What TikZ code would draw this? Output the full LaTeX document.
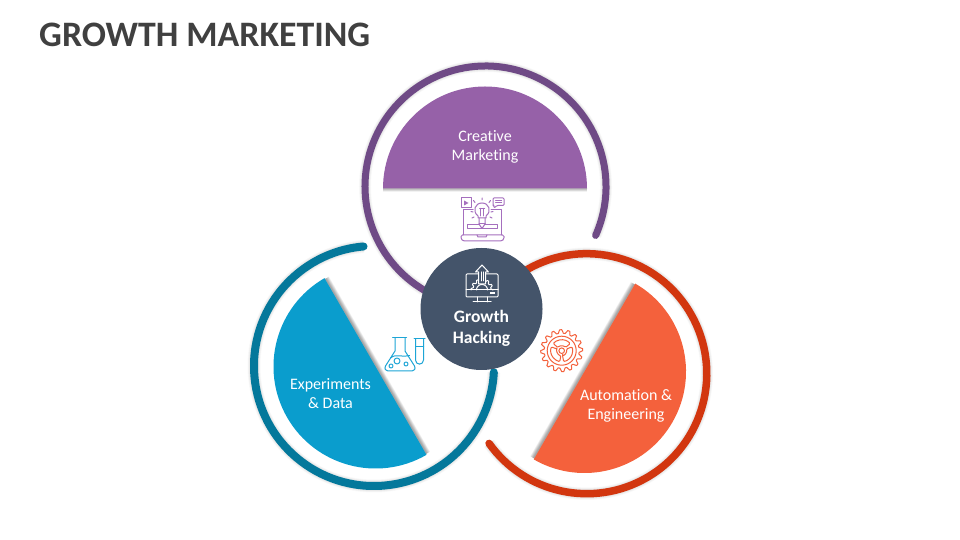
\documentclass[tikz,border=0pt]{standalone}
\usepackage{fontspec}
\setmainfont[Ligatures=NoCommon]{Carlito}
\usetikzlibrary{calc}
\definecolor{ttl}{HTML}{404040}
\definecolor{purring}{HTML}{6F4A86}
\definecolor{purfill}{HTML}{9661A8}
\definecolor{puricon}{HTML}{A56FBE}
\definecolor{tealring}{HTML}{04789B}
\definecolor{tealfill}{HTML}{0A9DCD}
\definecolor{tealicon}{HTML}{1DA5D6}
\definecolor{orring}{HTML}{D2360F}
\definecolor{orfill}{HTML}{F4613C}
\definecolor{hubfill}{HTML}{44546A}
\tikzset{
  ringline/.style={line width=#1,line cap=round},
  seglabel/.style={text=white,align=center,font=\fontsize{16}{19}\selectfont},
  iconflip/.style={yshift=540pt,y=-1pt,x=1pt,line width=1pt,line join=round,line cap=round},
  softshadow/.style={draw=black,draw opacity=#1,fill=none,line cap=butt}
}
\newcommand{\softpath}[3]{%
  \foreach \w in {#2}{\draw[softshadow=#3,line width=\w pt] #1;}}
\begin{document}
\begin{tikzpicture}[x=1pt,y=1pt]
\path[use as bounding box,fill=white] (0,0) rectangle (960,540);
\node[anchor=west,inner sep=0pt,text=ttl,font=\fontsize{35.8}{40}\selectfont\bfseries] (title) at (39,505.5) {GROWTH MARKETING};

% ring paths
\def\purring{([shift={(-24:120.5)}]485.5,353.5) arc[start angle=-24,end angle=240,radius=120.5]}
\def\tealring{([shift={(95:120)}]374,174) arc[start angle=95,end angle=357,radius=120]}
\def\orring{([shift={(120:120)}]586.75,166.3) arc[start angle=120,end angle=-144.5,radius=120]}
% soft ring shadows
\softpath{\purring}{8,9,10,11,12}{.02}
\softpath{\tealring}{9,10,11,12,13}{.02}
\softpath{\orring}{8.5,9.5,10.5,11.5,12.5}{.02}
\draw[ringline=7pt,purring] \purring;
\draw[ringline=8pt,tealring] \tealring;
\draw[ringline=7.5pt,orring] \orring;

% segments: half discs
\def\purseg{(383,351.5) arc[start angle=180,end angle=0,radius=102] -- cycle}
\def\tealseg{([shift={(120:102)}]375.5,173.5) arc[start angle=120,end angle=300,radius=102] -- cycle}
\def\orseg{([shift={(60:101.5)}]584.5,168.5) arc[start angle=60,end angle=-120,radius=101.5] -- cycle}
% shadows along the straight edges
\softpath{(383,351) -- (587,351)}{1,2,3,4,5,6}{.05}
\softpath{([shift={(120:101)}]376,173.8) -- ([shift={(-60:101)}]376,173.8)}{1,2,3,4,5,6,7,8}{.05}
\softpath{([shift={(60:100.5)}]584,168.8) -- ([shift={(-120:100.5)}]584,168.8)}{1,2,3,4,5,6,7,8}{.05}
\fill[purfill] \purseg;
\fill[tealfill] \tealseg;
\fill[orfill] \orseg;

% hub
\node[circle,fill=hubfill,minimum size=122pt,inner sep=0pt] (hub) at (481.5,231) {};

\node[seglabel] (creative) at (485,393) {Creative\\Marketing};
\node[seglabel] (experiments) at (330.5,146) {Experiments\\\& Data};
\node[seglabel] (automation) at (626,134) {Automation \&\\Engineering};
\node[text=white,align=center,font=\fontsize{17.5}{21}\selectfont\bfseries] (growth) at (481.5,212) {Growth\\Hacking};

% laptop / bulb icon
\begin{scope}[iconflip,draw=puricon]
  \draw (463,235) -- (463,210) -- (473,210);
  \draw (491,210) -- (501,210) -- (501,235);
  \draw[rounded corners=1.5pt] (461,235) -- (504,235) -- (504,239) -- (502,241) -- (463,241) -- (461,239) -- cycle;
  \draw (477,235) -- (478,237) -- (486,237) -- (487,235);
  \draw (478,216) .. controls (472,211) and (475,203) .. (482,203) .. controls (489,203) and (492,211) .. (486,216) -- (486,218) -- (478,218) -- cycle;
  \draw (479,218) -- (479,224) -- (482,228.5) -- (485,224) -- (485,218);
  \draw (479,224) -- (485,224);
  \draw (480.5,216) -- (480.5,208.5) (483.5,216) -- (483.5,208.5) (479.5,208.5) -- (484.5,208.5);
  \draw (479,225) -- (467,225) -- (467,229) -- (497.5,229) -- (497.5,225) -- (485,225);
  \draw (461,198) rectangle (471,208);
  \fill[puricon] (464,200.5) -- (468.5,203) -- (464,205.5) -- cycle;
  \draw[rounded corners=1pt] (493,198) -- (504,198) -- (504,205.5) -- (497,205.5) -- (494,208) -- (494,205.5) -- (493,205.5) -- cycle;
  \draw (495.5,200.5) -- (501.5,200.5) (495.5,203) -- (501.5,203);
  \draw (482,198) -- (482,200) (473.5,200.5) -- (475,202.5) (490.5,200.5) -- (489,202.5) (473,212) -- (471,211.5) (491,212) -- (493,211.5) (474,217) -- (472,218) (490,217) -- (492,218);
\end{scope}

% monitor icon
\begin{scope}[iconflip,draw=white]
  \draw[rounded corners=1pt] (466,274) rectangle (498,297);
  \draw (466,290) -- (498,290);
  \draw plot[samples at={0,...,24},tension=.15] ({482+(mod(\x,4)<2?11:9)*cos(180+7.5*\x)},{290+(mod(\x,4)<2?11:9)*sin(180+7.5*\x)});
  \draw plot[samples at={0,...,12}] ({482+5.5*cos(180+15*\x)},{290+5.5*sin(180+15*\x)});
  \draw[fill=hubfill] (478.5,284) -- (478.5,272) -- (475.5,272) -- (482,265) -- (488.5,272) -- (485.5,272) -- (485.5,284) -- cycle;
  \draw (481,272) -- (481,281) (483,272) -- (483,281);
  \fill[white] (489.5,292.5) rectangle (495,294);
  \draw (477,297) -- (477,302) (487,297) -- (487,302) (473,302) -- (491,302);
\end{scope}

% flask icon
\begin{scope}[iconflip,draw=tealicon]
  \draw (392.5,338) -- (406.5,338);
  \draw (395,338) -- (395,351) -- (385.5,366) .. controls (384,369) and (386,371) .. (388,371) -- (412,371) .. controls (414,371) and (416,369) .. (414.5,366) -- (405,351) -- (405,338);
  \draw (390.5,358) .. controls (396,353) and (403,358) .. (409.5,355.5);
  \draw (397,361) circle[radius=3];
  \draw (406,364) circle[radius=2];
  \draw (391,366) circle[radius=2];
  \draw (414,339) -- (425,339);
  \draw (415.5,339) -- (415.5,360) .. controls (415.5,365.5) and (423.5,365.5) .. (423.5,360) -- (423.5,339);
  \draw (415.5,347) -- (423.5,347);
\end{scope}

% gear icon
\begin{scope}[draw=orfill,line width=1pt,line join=round]
  \coordinate (gc) at (561.7,189.3);
  \draw plot[samples at={0,...,63},smooth cycle,tension=.12] ({561.7+(mod(\x,4)<2?21:17.5)*cos(5.625*\x)},{189.3+(mod(\x,4)<2?21:17.5)*sin(5.625*\x)});
  \draw (gc) circle[radius=14.5];
  \draw (gc) circle[radius=2.8];
  \foreach \a in {90,210,330}{
    \draw[rounded corners=1pt] ($(gc)+(\a-50:5)$) -- ($(gc)+(\a-50:11)$) arc[start angle=\a-50,end angle=\a+50,radius=11] -- ($(gc)+(\a+50:5)$) arc[start angle=\a+50,end angle=\a-50,radius=5] -- cycle;
  }
\end{scope}
\end{tikzpicture}
\end{document}
